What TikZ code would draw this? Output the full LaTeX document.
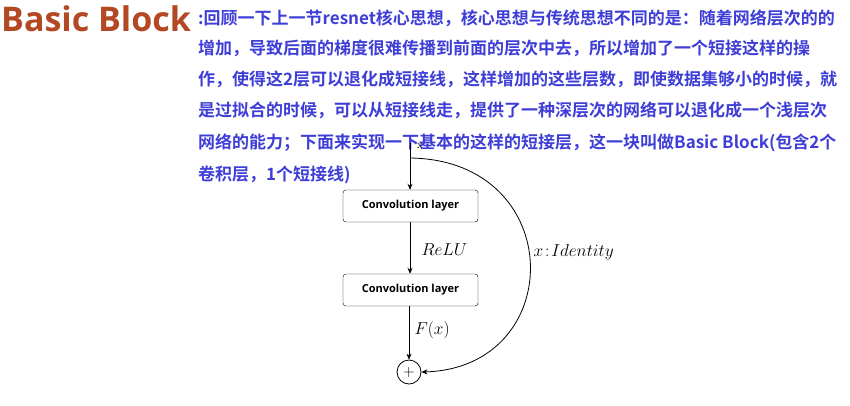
\documentclass[tikz,border=0pt]{standalone}
\usepackage{fontspec}
\usetikzlibrary{arrows.meta}
\setsansfont{Open Sans}
\newfontfamily\cjk{Noto Sans CJK SC}[BoldFont={Noto Sans CJK SC Bold}]
\definecolor{titlec}{RGB}{178,72,36}
\definecolor{bodyc}{RGB}{62,62,215}
\begin{document}
\begin{tikzpicture}[x=1pt,y=-1pt,
  txt/.style={anchor=west,inner sep=0,text=bodyc,font=\cjk\bfseries\fontsize{17}{18}\selectfont},
  conv/.style={draw,rounded corners=3pt,minimum width=135pt,minimum height=32pt,font=\sffamily\bfseries\fontsize{11}{12}\selectfont,inner sep=0},
  arr/.style={-{Stealth[length=6pt,width=5pt]},line width=0.8pt},
  lab/.style={font=\itshape\fontsize{19}{20}\selectfont}]
\useasboundingbox (0,0) rectangle (850,405);
\node[anchor=west,inner sep=0,text=titlec,font=\sffamily\bfseries\fontsize{34}{36}\selectfont] (title) at (1,19) {Basic Block};
\node[txt] (l1) at (198,18) {:回顾一下上一节resnet核心思想，核心思想与传统思想不同的是：随着网络层次的的};
\node[txt] (l2) at (198,48) {增加，导致后面的梯度很难传播到前面的层次中去，所以增加了一个短接这样的操};
\node[txt] (l3) at (198,79) {作，使得这2层可以退化成短接线，这样增加的这些层数，即使数据集够小的时候，就};
\node[txt] (l4) at (198,110) {是过拟合的时候，可以从短接线走，提供了一种深层次的网络可以退化成一个浅层次};
\node[txt] (l5) at (198,143) {网络的能力；下面来实现一下基本的这样的短接层，这一块叫做Basic Block(包含2个};
\node[txt] (l6) at (198,175) {卷积层，1个短接线)};
\coordinate (top) at (410,143);
\coordinate (arcstart) at (410,158);
\node[font=\fontsize{11}{12}\selectfont,inner sep=0] (xl) at (420,146) {x};
\node[conv] (c1) at (410.5,206) {Convolution layer};
\node[conv] (c2) at (410.5,290) {Convolution layer};
\node[draw,circle,minimum size=24pt,inner sep=0,line width=0.8pt,font=\fontsize{16}{16}\selectfont] (plus) at (409,372) {+};
\draw[arr] (top) -- (c1.north -| top);
\draw[arr] (c1.south -| top) -- (c2.north -| top);
\draw[arr] (c2.south -| plus) -- (plus.north);
\draw[arr] (arcstart) .. controls (568,160) and (568,368) .. (plus.east);
\node[lab,anchor=west] (relu) at (418,250) {$ReLU$};
\node[lab,anchor=west] (fx) at (411,330) {$F(x)$};
\node[lab,anchor=west] (id) at (530,252) {$x\!:\!Identity$};
\end{tikzpicture}
\end{document}
